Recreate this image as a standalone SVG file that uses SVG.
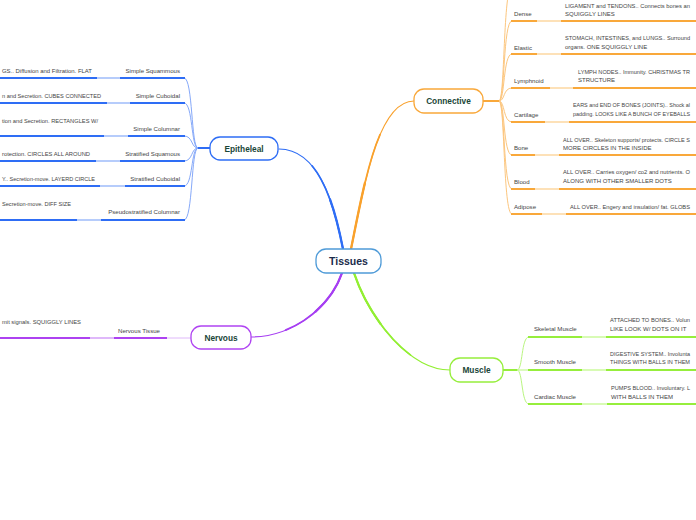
<svg xmlns="http://www.w3.org/2000/svg" width="696" height="520" viewBox="0 0 696 520">
<style>
.bg{fill:#ffffff}
.node{fill:#ffffff;stroke-width:1.3}
.nt{font-family:"Liberation Sans",Arial,sans-serif;font-weight:bold;font-size:8.3px;fill:#1a4638;text-anchor:middle}
.root{font-family:"Liberation Sans",Arial,sans-serif;font-weight:bold;font-size:10.5px;fill:#1b2b4b;text-anchor:middle}
.lb{font-family:"Liberation Sans",Arial,sans-serif;font-size:6.1px;fill:#444444}
.ds{font-family:"Liberation Sans",Arial,sans-serif;font-size:6px;fill:#444444}
.end{text-anchor:end}
.fan{fill:none;stroke-width:1}
.ul{fill:none;stroke-width:2}
.br{fill:none;stroke-linecap:round}
.w1{stroke-width:1.2}
.w2{stroke-width:1.7;stroke-dasharray:70 100}
.w3{stroke-width:2.3;stroke-dasharray:40 100}
.ep{stroke:#2e6df5}.epl{stroke:#b6ccfb}.epf{stroke:#86a9f9}
.co{stroke:#f9a83a}.col{stroke:#fde1b8}.cof{stroke:#fcc67e}
.ne{stroke:#ad42f1}.nel{stroke:#dfb8fa}
.mu{stroke:#96ee3c}.mul{stroke:#d8fbb5}.muf{stroke:#b9f57f}
</style>
<rect class="bg" x="0" y="0" width="696" height="520"/>
<g id="connectors">
  <path class="br w1" pathLength="100" d="M343,249 C335,208 320,149 279,149" stroke="#2e6df5"/>
  <path class="br w2" pathLength="100" d="M343,249 C335,208 320,149 279,149" stroke="#2e6df5"/>
  <path class="br w3" pathLength="100" d="M343,249 C335,208 320,149 279,149" stroke="#2e6df5"/>
  <path class="br w1" pathLength="100" d="M351,249 C364,185 378,101 414,101" stroke="#f9a12c"/>
  <path class="br w2" pathLength="100" d="M351,249 C364,185 378,101 414,101" stroke="#f9a12c"/>
  <path class="br w3" pathLength="100" d="M351,249 C364,185 378,101 414,101" stroke="#f9a12c"/>
  <path class="br w1" pathLength="100" d="M342,273 C330,308 292,337 251,337" stroke="#a63ef2"/>
  <path class="br w2" pathLength="100" d="M342,273 C330,308 292,337 251,337" stroke="#a63ef2"/>
  <path class="br w3" pathLength="100" d="M342,273 C330,308 292,337 251,337" stroke="#a63ef2"/>
  <path class="br w1" pathLength="100" d="M354,273 C370,320 410,370 450,370" stroke="#92ef32"/>
  <path class="br w2" pathLength="100" d="M354,273 C370,320 410,370 450,370" stroke="#92ef32"/>
  <path class="br w3" pathLength="100" d="M354,273 C370,320 410,370 450,370" stroke="#92ef32"/>
  <path class="ul ep" d="M210,148 L198,148" stroke-width="2.5"/>
  <path class="fan epf" d="M198,148 C191,148 193,78 184,78"/>
  <path class="fan epf" d="M198,148 C191,148 193,103 184,103"/>
  <path class="fan epf" d="M198,148 C191,148 193,136 184,136"/>
  <path class="fan epf" d="M198,148 C191,148 193,161 184,161"/>
  <path class="fan epf" d="M198,148 C191,148 193,186 184,186"/>
  <path class="fan epf" d="M198,148 C191,148 193,220 184,220"/>
  <path class="ul ep" d="M0,78 H97 M120,78 H185"/><path class="ul epl" d="M97,78 H120"/>
  <path class="ul ep" d="M0,103 H107 M130,103 H185"/><path class="ul epl" d="M107,103 H130"/>
  <path class="ul ep" d="M0,136 H104 M128,136 H185"/><path class="ul epl" d="M104,136 H128"/>
  <path class="ul ep" d="M0,161 H96 M120,161 H185"/><path class="ul epl" d="M96,161 H120"/>
  <path class="ul ep" d="M0,186 H100 M125,186 H185"/><path class="ul epl" d="M100,186 H125"/>
  <path class="ul ep" d="M0,220 H77 M101,220 H185"/><path class="ul epl" d="M77,220 H101"/>
  <path class="ul co" d="M483,101 L499,101" stroke-width="2.5"/>
  <path class="fan cof" d="M499,101 C505,101 503,-14 512,-14"/>
  <path class="fan cof" d="M499,101 C505,101 503,21 512,21"/>
  <path class="fan cof" d="M499,101 C505,101 503,54 512,54"/>
  <path class="fan cof" d="M499,101 C505,101 503,88 512,88"/>
  <path class="fan cof" d="M499,101 C505,101 503,122 512,122"/>
  <path class="fan cof" d="M499,101 C505,101 503,155 512,155"/>
  <path class="fan cof" d="M499,101 C505,101 503,189 512,189"/>
  <path class="fan cof" d="M499,101 C505,101 503,214 512,214"/>
  <path class="ul co" d="M511,21 H537 M561,21 H696"/><path class="ul col" d="M537,21 H561"/>
  <path class="ul co" d="M511,54 H537 M561,54 H696"/><path class="ul col" d="M537,54 H561"/>
  <path class="ul co" d="M511,88 H550 M573,88 H696"/><path class="ul col" d="M550,88 H573"/>
  <path class="ul co" d="M511,122 H545 M569,122 H696"/><path class="ul col" d="M545,122 H569"/>
  <path class="ul co" d="M511,155 H535 M559,155 H696"/><path class="ul col" d="M535,155 H559"/>
  <path class="ul co" d="M511,189 H535 M559,189 H696"/><path class="ul col" d="M535,189 H559"/>
  <path class="ul co" d="M511,214 H542 M566,214 H696"/><path class="ul col" d="M542,214 H566"/>
  <path class="fan nel" d="M191,338 H167" stroke-width="1.2"/>
  <path class="ul ne" d="M0,338 H90 M114,338 H167"/><path class="ul nel" d="M90,338 H114"/>
  <path class="ul mu" d="M503,370 L517,370" stroke-width="2.5"/>
  <path class="fan muf" d="M517,370 C523,370 521,337 529,337"/>
  <path class="fan muf" d="M517,370 H529"/>
  <path class="fan muf" d="M517,370 C523,370 521,404 529,404"/>
  <path class="ul mu" d="M528,337 H582 M606,337 H696"/><path class="ul mul" d="M582,337 H606"/>
  <path class="ul mu" d="M528,370 H582 M606,370 H696"/><path class="ul mul" d="M582,370 H606"/>
  <path class="ul mu" d="M528,404 H582 M607,404 H696"/><path class="ul mul" d="M582,404 H607"/>
</g>
<g id="tissues">
  <rect class="node" x="316" y="249" width="65" height="24" rx="10" stroke="#4f9bd8"/>
  <text class="root" x="348.5" y="265">Tissues</text>
</g>
<g id="epitheleal">
  <rect class="node" x="210" y="137" width="68" height="23" rx="10" stroke="#2e6df5"/>
  <text class="nt" x="244" y="151.5">Epitheleal</text>
</g>
<g id="connective">
  <rect class="node" x="414" y="89" width="69" height="24" rx="10" stroke="#f9a83a"/>
  <text class="nt" x="448.5" y="104">Connective</text>
</g>
<g id="nervous">
  <rect class="node" x="191" y="326" width="60" height="23" rx="10" stroke="#b044f2"/>
  <text class="nt" x="221" y="340.5">Nervous</text>
</g>
<g id="muscle">
  <rect class="node" x="450" y="358" width="53" height="24" rx="10" stroke="#96ee3c"/>
  <text class="nt" x="476.5" y="373">Muscle</text>
</g>
<g id="simple-squammous">
  <text class="lb end" x="180" y="73">Simple Squammous</text>
  <text class="ds end" x="92" y="73" textLength="90" lengthAdjust="spacingAndGlyphs">GS.. Diffusion and Filtration. FLAT</text>
</g>
<g id="simple-cuboidal">
  <text class="lb end" x="180" y="98">Simple Cuboidal</text>
  <text class="ds end" x="101" y="98" textLength="99" lengthAdjust="spacingAndGlyphs">n and Secretion. CUBES CONNECTED</text>
</g>
<g id="simple-columnar">
  <text class="lb end" x="180" y="131">Simple Columnar</text>
  <text class="ds end" x="98" y="123" textLength="96" lengthAdjust="spacingAndGlyphs">tion and Secretion. RECTANGLES W/</text>
</g>
<g id="stratified-squamous">
  <text class="lb end" x="180" y="156">Stratified Squamous</text>
  <text class="ds end" x="90" y="156" textLength="88" lengthAdjust="spacingAndGlyphs">rotection. CIRCLES ALL AROUND</text>
</g>
<g id="stratified-cuboidal">
  <text class="lb end" x="180" y="181">Stratified Cuboidal</text>
  <text class="ds end" x="95" y="181" textLength="93" lengthAdjust="spacingAndGlyphs">Y.. Secretion-move. LAYERD CIRCLE</text>
</g>
<g id="pseudostratified-columnar">
  <text class="lb end" x="180" y="214">Pseudostratified Columnar</text>
  <text class="ds end" x="71" y="206" textLength="69" lengthAdjust="spacingAndGlyphs">Secretion-move. DIFF SIZE</text>
</g>
<g id="dense">
  <text class="lb" x="514" y="16">Dense</text>
  <text class="ds" x="565" y="8" textLength="125" lengthAdjust="spacingAndGlyphs">LIGAMENT and TENDONS.. Connects bones an</text>
  <text class="ds" x="565" y="16">SQUIGGLY LINES</text>
</g>
<g id="elastic">
  <text class="lb" x="514" y="50">Elastic</text>
  <text class="ds" x="565" y="40" textLength="125" lengthAdjust="spacingAndGlyphs">STOMACH, INTESTINES, and LUNGS.. Surround</text>
  <text class="ds" x="565" y="49">organs. ONE SQUIGGLY LINE</text>
</g>
<g id="lymphnoid">
  <text class="lb" x="514" y="83">Lymphnoid</text>
  <text class="ds" x="578" y="74" textLength="112" lengthAdjust="spacingAndGlyphs">LYMPH NODES.. Immunity. CHRISTMAS TR</text>
  <text class="ds" x="578" y="82">STRUCTURE</text>
</g>
<g id="cartilage">
  <text class="lb" x="514" y="117">Cartilage</text>
  <text class="ds" x="573" y="107" textLength="117" lengthAdjust="spacingAndGlyphs">EARS and END OF BONES (JOINTS).. Shock al</text>
  <text class="ds" x="573" y="116" textLength="117" lengthAdjust="spacingAndGlyphs">padding. LOOKS LIKE A BUNCH OF EYEBALLS</text>
</g>
<g id="bone">
  <text class="lb" x="514" y="150">Bone</text>
  <text class="ds" x="563" y="142" textLength="127" lengthAdjust="spacingAndGlyphs">ALL OVER.. Skeleton supports/ protects. CIRCLE S</text>
  <text class="ds" x="563" y="150">MORE CIRCLES IN THE INSIDE</text>
</g>
<g id="blood">
  <text class="lb" x="514" y="184">Blood</text>
  <text class="ds" x="563" y="174" textLength="127" lengthAdjust="spacingAndGlyphs">ALL OVER.. Carries oxygen/ co2 and nutrients. O</text>
  <text class="ds" x="563" y="183">ALONG WITH OTHER SMALLER DOTS</text>
</g>
<g id="adipose">
  <text class="lb" x="514" y="209">Adipose</text>
  <text class="ds" x="570" y="209" textLength="120" lengthAdjust="spacingAndGlyphs">ALL OVER.. Engery and insulation/ fat. GLOBS</text>
</g>
<g id="nervous-tissue">
  <text class="lb" x="118" y="333">Nervous Tissue</text>
  <text class="ds end" x="81" y="324" textLength="79" lengthAdjust="spacingAndGlyphs">mit signals. SQUIGGLY LINES</text>
</g>
<g id="skeletal-muscle">
  <text class="lb" x="534" y="331">Skeletal Muscle</text>
  <text class="ds" x="610" y="322" textLength="80" lengthAdjust="spacingAndGlyphs">ATTACHED TO BONES.. Volun</text>
  <text class="ds" x="610" y="331">LIKE LOOK W/ DOTS ON IT</text>
</g>
<g id="smooth-muscle">
  <text class="lb" x="534" y="364">Smooth Muscle</text>
  <text class="ds" x="610" y="356" textLength="80" lengthAdjust="spacingAndGlyphs">DIGESTIVE SYSTEM.. Involunta</text>
  <text class="ds" x="610" y="364" textLength="80" lengthAdjust="spacingAndGlyphs">THINGS WITH BALLS IN THEM</text>
</g>
<g id="cardiac-muscle">
  <text class="lb" x="534" y="399">Cardiac Muscle</text>
  <text class="ds" x="611" y="390" textLength="79" lengthAdjust="spacingAndGlyphs">PUMPS BLOOD.. Involuntary. L</text>
  <text class="ds" x="611" y="399">WITH BALLS IN THEM</text>
</g>
</svg>
